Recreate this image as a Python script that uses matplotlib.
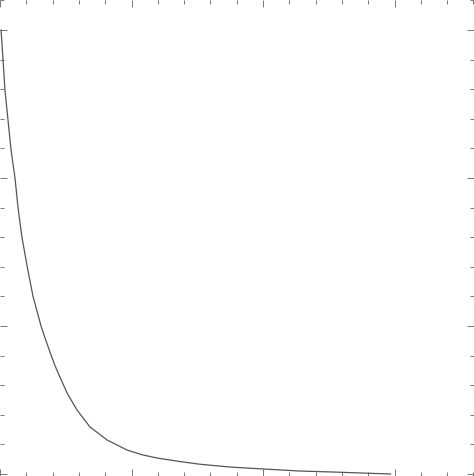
import matplotlib
matplotlib.use("Agg")
from matplotlib import pyplot as plt
from matplotlib.ticker import MultipleLocator

# curve
x_vals = [0.008, 0.023, 0.038, 0.061, 0.084, 0.114, 0.137, 0.167, 0.205, 0.251,
          0.312, 0.348, 0.388, 0.420, 0.456, 0.510, 0.586, 0.684, 0.814, 0.966,
          1.08, 1.194, 1.37, 1.52, 1.75, 2.0, 2.28, 2.53, 2.74, 2.97]
y_vals = [3.0, 2.80, 2.59, 2.39, 2.19, 2.0, 1.80, 1.60, 1.41, 1.20,
          1.0, 0.905, 0.804, 0.728, 0.655, 0.547, 0.432, 0.318, 0.230, 0.162,
          0.13, 0.108, 0.084, 0.066, 0.047, 0.034, 0.02, 0.0135, 0.007, 0.0]

fig = plt.figure(figsize=(4.74, 4.76), dpi=100)
ax = fig.add_axes([0, 0, 1, 1])

ax.plot(x_vals, y_vals, color="#555555", linewidth=0.9)

ax.set_xlim(0, 474 / 131.5)
ax.set_ylim(-2 / 148, 474 / 148)

ax.xaxis.set_major_locator(MultipleLocator(1))
ax.xaxis.set_minor_locator(MultipleLocator(0.2))
ax.yaxis.set_major_locator(MultipleLocator(1))
ax.yaxis.set_minor_locator(MultipleLocator(0.2))

ax.tick_params(which="both", direction="in", top=True, right=True,
               labelbottom=False, labelleft=False, color="#777777", width=0.7)
ax.tick_params(which="major", length=5)
ax.tick_params(which="minor", length=3)

for s in ax.spines.values():
    s.set_visible(False)

fig.savefig("out.png", dpi=100)
